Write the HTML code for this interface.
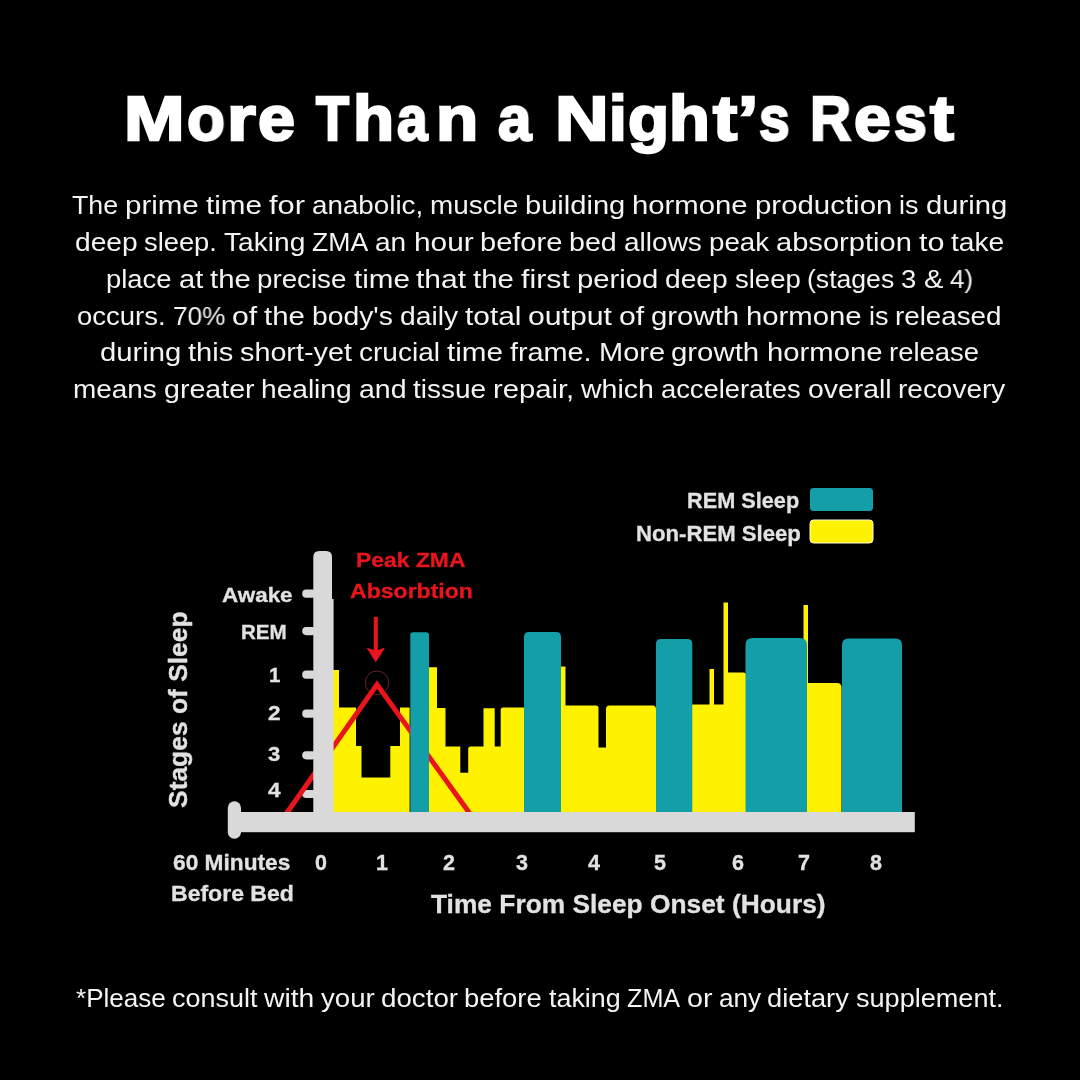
<!DOCTYPE html>
<html>
<head>
<meta charset="utf-8">
<title>More Than a Night's Rest</title>
<style>
  html, body { margin: 0; padding: 0; background: #000; }
  body { width: 1080px; height: 1080px; position: relative; overflow: hidden;
         font-family: "Liberation Sans", sans-serif; color: #fff; }
  .t { will-change: transform; position: absolute; white-space: nowrap; line-height: 1; margin: 0; padding: 0;
       transform-origin: 0 0; }
  .b { font-weight: bold; }
  .ttl { font-size: 63.5px; font-weight: bold; color: #fff;
           -webkit-text-stroke: 2.4px #fff; paint-order: stroke fill; }
  .p { font-size: 26.6px; color: #f4f4f4; }
  .f { font-size: 25.2px; color: #f4f4f4; }
  .lab { font-size: 20.5px; font-weight: bold; color: #e2e2e2; -webkit-text-stroke: 0.3px #e2e2e2; }
  .red { color: #e8151d; -webkit-text-stroke: 0.3px #e8151d; }
  svg { position: absolute; left: 0; top: 0; }
</style>
</head>
<body>

<span class="t ttl" id="tl0" style="left:123.6px; top:87.4px; transform:scaleX(1.1455);">M</span>
<span class="t ttl" id="tl1" style="left:186.8px; top:87.4px; transform:scaleX(0.9777);">o</span>
<span class="t ttl" id="tl2" style="left:227.4px; top:87.4px; transform:scaleX(1.1649);">r</span>
<span class="t ttl" id="tl3" style="left:258.0px; top:87.4px; transform:scaleX(1.0462);">e</span>
<span class="t ttl" id="tl4" style="left:316.0px; top:87.4px; transform:scaleX(0.8531);">T</span>
<span class="t ttl" id="tl5" style="left:352.9px; top:87.4px; transform:scaleX(1.0598);">h</span>
<span class="t ttl" id="tl6" style="left:396.9px; top:87.4px; transform:scaleX(0.8660);">a</span>
<span class="t ttl" id="tl7" style="left:436.0px; top:87.4px; transform:scaleX(1.0888);">n</span>
<span class="t ttl" id="tl8" style="left:497.7px; top:87.4px; transform:scaleX(0.9446);">a</span>
<span class="t ttl" id="tl9" style="left:555.0px; top:87.4px; transform:scaleX(1.1696);">N</span>
<span class="t ttl" id="tl10" style="left:608.9px; top:87.4px; transform:scaleX(0.9819);">i</span>
<span class="t ttl" id="tl11" style="left:627.6px; top:87.4px; transform:scaleX(1.0591);">g</span>
<span class="t ttl" id="tl12" style="left:668.5px; top:87.4px; transform:scaleX(1.0541);">h</span>
<span class="t ttl" id="tl13" style="left:713.4px; top:87.4px; transform:scaleX(1.1446);">t</span>
<span class="t ttl" id="tl14" style="left:738.1px; top:87.4px; transform:scaleX(1.1526);">’</span>
<span class="t ttl" id="tl15" style="left:758.7px; top:87.4px; transform:scaleX(0.8657);">s</span>
<span class="t ttl" id="tl16" style="left:810.4px; top:87.4px; transform:scaleX(0.8962);">R</span>
<span class="t ttl" id="tl17" style="left:854.1px; top:87.4px; transform:scaleX(1.0402);">e</span>
<span class="t ttl" id="tl18" style="left:893.9px; top:87.4px; transform:scaleX(0.9272);">s</span>
<span class="t ttl" id="tl19" style="left:929.7px; top:87.4px; transform:scaleX(1.1259);">t</span>

<!-- PARA START -->
<span class="t p" style="left:72.2px; top:191.8px; transform:scaleX(1.0056);">The</span>
<span class="t p" style="left:125.2px; top:191.8px; transform:scaleX(1.1089);">prime</span>
<span class="t p" style="left:205.9px; top:191.8px; transform:scaleX(1.1132);">time</span>
<span class="t p" style="left:268.7px; top:191.8px; transform:scaleX(1.1609);">for</span>
<span class="t p" style="left:311.7px; top:191.8px; transform:scaleX(1.0446);">anabolic,</span>
<span class="t p" style="left:429.8px; top:191.8px; transform:scaleX(1.0482);">muscle</span>
<span class="t p" style="left:525.1px; top:191.8px; transform:scaleX(1.0937);">building</span>
<span class="t p" style="left:632.2px; top:191.8px; transform:scaleX(1.1014);">hormone</span>
<span class="t p" style="left:754.8px; top:191.8px; transform:scaleX(1.1061);">production</span>
<span class="t p" style="left:899.1px; top:191.8px; transform:scaleX(1.0136);">is</span>
<span class="t p" style="left:925.5px; top:191.8px; transform:scaleX(1.1000);">during</span>
<span class="t p" style="left:74.7px; top:228.7px; transform:scaleX(1.0582);">deep</span>
<span class="t p" style="left:144.3px; top:228.7px; transform:scaleX(1.0262);">sleep.</span>
<span class="t p" style="left:224.0px; top:228.7px; transform:scaleX(1.0576);">Taking</span>
<span class="t p" style="left:312.3px; top:228.7px; transform:scaleX(1.0007);">ZMA</span>
<span class="t p" style="left:375.4px; top:228.7px; transform:scaleX(1.0547);">an</span>
<span class="t p" style="left:413.5px; top:228.7px; transform:scaleX(1.1221);">hour</span>
<span class="t p" style="left:480.1px; top:228.7px; transform:scaleX(1.0913);">before</span>
<span class="t p" style="left:569.4px; top:228.7px; transform:scaleX(1.0738);">bed</span>
<span class="t p" style="left:623.9px; top:228.7px; transform:scaleX(1.0540);">allows</span>
<span class="t p" style="left:708.8px; top:228.7px; transform:scaleX(1.0427);">peak</span>
<span class="t p" style="left:775.8px; top:228.7px; transform:scaleX(1.0940);">absorption</span>
<span class="t p" style="left:918.6px; top:228.7px; transform:scaleX(1.1507);">to</span>
<span class="t p" style="left:951.0px; top:228.7px; transform:scaleX(1.0584);">take</span>
<span class="t p" style="left:106.0px; top:265.6px; transform:scaleX(1.0314);">place</span>
<span class="t p" style="left:178.5px; top:265.6px; transform:scaleX(1.0932);">at</span>
<span class="t p" style="left:209.6px; top:265.6px; transform:scaleX(1.1021);">the</span>
<span class="t p" style="left:257.3px; top:265.6px; transform:scaleX(1.0418);">precise</span>
<span class="t p" style="left:353.5px; top:265.6px; transform:scaleX(1.1132);">time</span>
<span class="t p" style="left:416.4px; top:265.6px; transform:scaleX(1.1278);">that</span>
<span class="t p" style="left:473.4px; top:265.6px; transform:scaleX(1.1021);">the</span>
<span class="t p" style="left:521.0px; top:265.6px; transform:scaleX(1.1392);">first</span>
<span class="t p" style="left:576.8px; top:265.6px; transform:scaleX(1.1009);">period</span>
<span class="t p" style="left:665.1px; top:265.6px; transform:scaleX(1.0582);">deep</span>
<span class="t p" style="left:734.6px; top:265.6px; transform:scaleX(1.0339);">sleep</span>
<span class="t p" style="left:807.3px; top:265.6px; transform:scaleX(0.9993);">(stages</span>
<span class="t p" style="left:901.3px; top:265.6px; transform:scaleX(1.0309);">3</span>
<span class="t p" style="left:923.5px; top:265.6px; transform:scaleX(1.0975);">&amp;</span>
<span class="t p" style="left:949.9px; top:265.6px; transform:scaleX(0.9785);">4)</span>
<span class="t p" style="left:77.4px; top:302.5px; transform:scaleX(1.0333);">occurs.</span>
<span class="t p" style="left:172.8px; top:302.5px; transform:scaleX(0.9864);">70%</span>
<span class="t p" style="left:232.3px; top:302.5px; transform:scaleX(1.1337);">of</span>
<span class="t p" style="left:264.3px; top:302.5px; transform:scaleX(1.1021);">the</span>
<span class="t p" style="left:312.0px; top:302.5px; transform:scaleX(1.0632);">body's</span>
<span class="t p" style="left:399.8px; top:302.5px; transform:scaleX(1.0623);">daily</span>
<span class="t p" style="left:464.8px; top:302.5px; transform:scaleX(1.1242);">total</span>
<span class="t p" style="left:528.3px; top:302.5px; transform:scaleX(1.1362);">output</span>
<span class="t p" style="left:619.2px; top:302.5px; transform:scaleX(1.1337);">of</span>
<span class="t p" style="left:651.3px; top:302.5px; transform:scaleX(1.1041);">growth</span>
<span class="t p" style="left:746.3px; top:302.5px; transform:scaleX(1.1014);">hormone</span>
<span class="t p" style="left:868.8px; top:302.5px; transform:scaleX(1.0136);">is</span>
<span class="t p" style="left:895.2px; top:302.5px; transform:scaleX(1.0431);">released</span>
<span class="t p" style="left:99.9px; top:339.4px; transform:scaleX(1.1000);">during</span>
<span class="t p" style="left:188.2px; top:339.4px; transform:scaleX(1.0934);">this</span>
<span class="t p" style="left:240.4px; top:339.4px; transform:scaleX(1.0815);">short-yet</span>
<span class="t p" style="left:359.2px; top:339.4px; transform:scaleX(1.0536);">crucial</span>
<span class="t p" style="left:447.1px; top:339.4px; transform:scaleX(1.1132);">time</span>
<span class="t p" style="left:509.9px; top:339.4px; transform:scaleX(1.0829);">frame.</span>
<span class="t p" style="left:598.5px; top:339.4px; transform:scaleX(1.0898);">More</span>
<span class="t p" style="left:671.4px; top:339.4px; transform:scaleX(1.1041);">growth</span>
<span class="t p" style="left:766.5px; top:339.4px; transform:scaleX(1.1014);">hormone</span>
<span class="t p" style="left:889.0px; top:339.4px; transform:scaleX(1.0326);">release</span>
<span class="t p" style="left:73.3px; top:376.3px; transform:scaleX(1.0484);">means</span>
<span class="t p" style="left:163.9px; top:376.3px; transform:scaleX(1.0746);">greater</span>
<span class="t p" style="left:261.4px; top:376.3px; transform:scaleX(1.0566);">healing</span>
<span class="t p" style="left:358.9px; top:376.3px; transform:scaleX(1.0714);">and</span>
<span class="t p" style="left:413.4px; top:376.3px; transform:scaleX(1.0498);">tissue</span>
<span class="t p" style="left:493.3px; top:376.3px; transform:scaleX(1.0984);">repair,</span>
<span class="t p" style="left:581.4px; top:376.3px; transform:scaleX(1.0725);">which</span>
<span class="t p" style="left:661.2px; top:376.3px; transform:scaleX(1.0273);">accelerates</span>
<span class="t p" style="left:807.8px; top:376.3px; transform:scaleX(1.0676);">overall</span>
<span class="t p" style="left:898.4px; top:376.3px; transform:scaleX(1.0522);">recovery</span>
<!-- PARA END -->

<svg width="1080" height="1080" viewBox="0 0 1080 1080">
  <!-- legend swatches -->
  <rect x="810" y="488" width="63" height="23" rx="3.5" fill="#149fa8"/>
  <rect x="810" y="520" width="63" height="23" rx="3.5" fill="#fff200" stroke="#fffbd0" stroke-width="1"/>

  <!-- yellow Non-REM silhouette -->
  <path fill="#fff200" d="
    M332 814 L332 670 L339 670 L339 707.5 L356 707.5 L356 746 L361.5 746 L361.5 777.5
    L390.3 777.5 L390.3 746 L400 746 L400 707.5 L409.600 707.5 L409.600 814 Z"/>
  <path fill="#fff200" d="
    M428.500 814 L428.500 667.200 L437 667.200 L437 708 L445.500 708 L445.500 746.500 L460.300 746.500 L460.300 772.800
    L468.200 772.800 L468.200 749 Q468.200 746.500 470.700 746.500 L483.500 746.500 L483.500 708.300 L494.700 708.300 L494.700 746.500
    L500.700 746.500 L500.700 710 Q500.700 707.500 503.200 707.500 L525 707.500 L525 814 Z"/>
  <path fill="#fff200" d="
    M560 814 L560 666.5 L565.5 666.5 L565.5 705.5 L596 705.5 Q598.5 705.5 598.5 708 L598.5 747.5
    L606 747.5 L606 709 Q606 705.5 609.5 705.5 L652.5 705.5 Q656 705.5 656 709 L657 814 Z"/>
  <path fill="#fff200" d="
    M692 814 L692 704.5 L709.5 704.5 L709.5 669 L714 669 L714 704.5 L723.5 704.5 L723.5 602.5
    L728 602.5 L728 672.5 L743 672.5 Q746.5 672.5 746.5 676 L746.5 814 Z"/>
  <path fill="#fff200" d="
    M803.5 814 L803.5 605 L808 605 L808 683 L837 683 Q841.5 683 841.5 687.5 L841.5 814 Z"/>

  <!-- ticks -->
  <g fill="#d9d9d9">
    <rect x="302.200" y="589.600" width="14" height="8.200" rx="4.100"/>
    <rect x="302.200" y="627" width="14" height="8.200" rx="4.100"/>
    <rect x="302.200" y="670.600" width="14" height="8.200" rx="4.100"/>
    <rect x="302.200" y="709.600" width="14" height="8.200" rx="4.100"/>
    <rect x="302.200" y="751.200" width="14" height="8.200" rx="4.100"/>
    <rect x="302.200" y="789.900" width="14" height="8.200" rx="4.100"/>
  </g>

  <!-- red absorption lines -->
  <circle cx="377" cy="682.800" r="11.800" fill="none" stroke="#6a2426" stroke-width="1"/>
  <path d="M284.700 816 L377 684.500 L471.600 816" fill="none" stroke="#e8151d" stroke-width="5" stroke-linejoin="miter"/>
  <!-- teal REM bars -->
  <g fill="#149fa8">
    <path d="M410.300 814 L410.300 635 Q410.300 632.200 413.100 632.200 L426.200 632.200 Q429 632.200 429 635 L429 814 Z"/>
    <path d="M524 814 L524 637 Q524 632 529 632 L556 632 Q561 632 561 637 L561 814 Z"/>
    <path d="M656 814 L656 644 Q656 639 661 639 L687.300 639 Q692.300 639 692.300 644 L692.300 814 Z"/>
    <path d="M745.500 814 L745.5 645 Q745.5 638 752.5 638 L800 638 Q807 638 807 645 L807 814 Z"/>
    <path d="M842 814 L842 645 Q842 638.5 848.5 638.5 L895.5 638.5 Q902 638.5 902 645 L902 814 Z"/>
  </g>

  <!-- arrow -->
  <path d="M375.800 616.800 L375.8 652" fill="none" stroke="#e8151d" stroke-width="4" stroke-linecap="butt"/>
  <path d="M367.300 648.300 L375.8 651 L384.300 648.300 L375.8 661.800 Z" fill="#e8151d" stroke="#e8151d" stroke-width="0.8" stroke-linejoin="round"/>

  <!-- axes -->
  <g fill="#d9d9d9">
    <path d="M313.300 826 L313.300 557 Q313.300 551 319.300 551 L326 551 Q332 551 332 557 L332 599 L333.600 599 L333.600 826 Z"/>
    <rect x="232" y="812" width="682.800" height="20.200"/>
    <rect x="227.800" y="801.200" width="13.200" height="37.600" rx="6.600"/>
  </g>
</svg>

<!-- legend text -->
<div class="t lab" id="lg1" style="left:687.0px; top:491px; font-size:21.5px; transform:scaleX(1.0092);">REM Sleep</div>
<div class="t lab" id="lg2" style="left:636.3px; top:523.500px; font-size:21.5px; transform:scaleX(1.0298);">Non-REM Sleep</div>

<!-- peak label -->
<div class="t lab red" id="pk1" style="left:356.3px; top:550px; font-size:20.5px; transform:scaleX(1.1177);">Peak ZMA</div>
<div class="t lab red" id="pk2" style="left:350.4px; top:581px; font-size:20.5px; transform:scaleX(1.1244);">Absorbtion</div>

<!-- y labels -->
<div class="t lab" id="y0" style="left:222.1px; top:585px; transform:scaleX(1.0928);">Awake</div>
<div class="t lab" id="y1" style="left:241.1px; top:622.3px; transform:scaleX(1.0046);">REM</div>
<div class="t lab" id="y2" style="left:269px; top:664.5px;">1</div>
<div class="t lab" id="y3" style="left:268px; top:703px; transform:scaleX(1.1);">2</div>
<div class="t lab" id="y4" style="left:268px; top:743.5px; transform:scaleX(1.08);">3</div>
<div class="t lab" id="y5" style="left:268px; top:780px; transform:scaleX(1.1);">4</div>

<div class="t lab" id="ytitle" style="left:166px; top:808px; font-size:25.5px; transform:rotate(-90deg) scaleX(1.035); transform-origin: 0 0;">Stages of Sleep</div>

<!-- x labels -->
<div class="t lab" id="xb1" style="left:173.0px; top:853.3px; font-size:21.5px; transform:scaleX(1.0562);">60 Minutes</div>
<div class="t lab" id="xb2" style="left:170.5px; top:884.3px; font-size:21.5px; transform:scaleX(1.0710);">Before Bed</div>
<div class="t lab" id="x0" style="left:315px; top:853.3px; font-size:21.5px;">0</div>
<div class="t lab" id="x1" style="left:376px; top:853.3px; font-size:21.5px;">1</div>
<div class="t lab" id="x2" style="left:443px; top:853.3px; font-size:21.5px;">2</div>
<div class="t lab" id="x3" style="left:515.500px; top:853.3px; font-size:21.5px;">3</div>
<div class="t lab" id="x4" style="left:587.500px; top:853.3px; font-size:21.5px;">4</div>
<div class="t lab" id="x5" style="left:654px; top:853.3px; font-size:21.5px;">5</div>
<div class="t lab" id="x6" style="left:732px; top:853.3px; font-size:21.5px;">6</div>
<div class="t lab" id="x7" style="left:797.500px; top:853.3px; font-size:21.5px;">7</div>
<div class="t lab" id="x8" style="left:870px; top:853.3px; font-size:21.5px;">8</div>
<div class="t lab" id="xtitle" style="left:431.1px; top:892px; font-size:25.5px; transform:scaleX(1.0326);">Time From Sleep Onset (Hours)</div>

<!-- footnote -->
<!-- FOOT START -->
<span class="t f" style="left:75.5px; top:985.7px; transform:scaleX(1.0335);">*Please</span>
<span class="t f" style="left:171.8px; top:985.7px; transform:scaleX(1.0702);">consult</span>
<span class="t f" style="left:263.7px; top:985.7px; transform:scaleX(1.1234);">with</span>
<span class="t f" style="left:320.6px; top:985.7px; transform:scaleX(1.0950);">your</span>
<span class="t f" style="left:380.8px; top:985.7px; transform:scaleX(1.1004);">doctor</span>
<span class="t f" style="left:464.3px; top:985.7px; transform:scaleX(1.0884);">before</span>
<span class="t f" style="left:548.6px; top:985.7px; transform:scaleX(1.0676);">taking</span>
<span class="t f" style="left:626.9px; top:985.7px; transform:scaleX(0.9980);">ZMA</span>
<span class="t f" style="left:686.5px; top:985.7px; transform:scaleX(1.1385);">or</span>
<span class="t f" style="left:718.6px; top:985.7px; transform:scaleX(1.0383);">any</span>
<span class="t f" style="left:767.3px; top:985.7px; transform:scaleX(1.0823);">dietary</span>
<span class="t f" style="left:855.6px; top:985.7px; transform:scaleX(1.0748);">supplement.</span>
<!-- FOOT END -->

</body>
</html>
